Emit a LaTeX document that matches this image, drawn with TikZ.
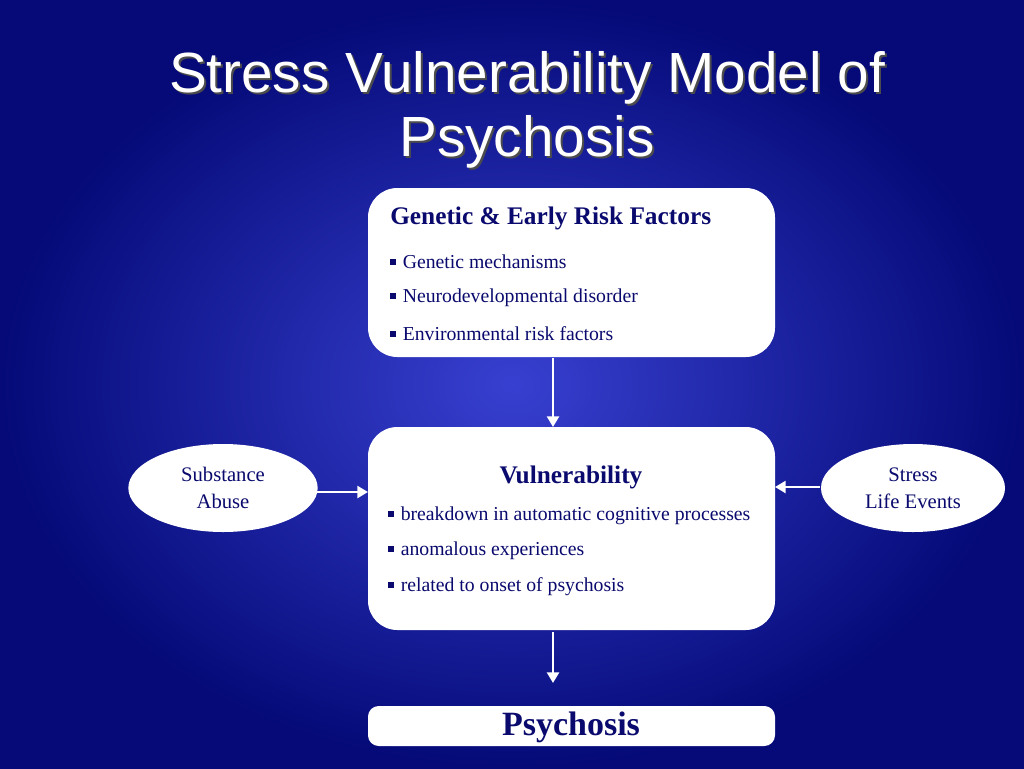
\documentclass[tikz,border=0pt]{standalone}
\usepackage{fontspec}
\setmainfont{Liberation Serif}
\newfontfamily\arialf{Liberation Sans}
\usetikzlibrary{shapes.geometric,arrows.meta,shadows}
\definecolor{bgblue}{RGB}{20,30,200}
\definecolor{bgdark}{RGB}{5,10,120}
\definecolor{navy}{RGB}{10,10,110}
\newcommand{\bsq}{\raisebox{0.45ex}{\rule{0.3em}{0.3em}}\,\,}
\begin{document}
\begin{tikzpicture}[x=0.75pt,y=-0.75pt,
  box/.style={fill=white,rounded corners=22pt},
  item/.style={anchor=west,text=navy,font=\fontsize{14.8}{16}\selectfont,inner sep=0pt},
  hd/.style={text=navy,font=\bfseries\fontsize{19}{21}\selectfont,inner sep=0pt},
  ell/.style={ellipse,fill=white,text=navy,align=center,font=\fontsize{15.5}{20}\selectfont},
  arr/.style={white,line width=1.8pt,-{Triangle[length=8pt,width=9pt]}}]
\shade[inner color=bgblue!85!white, outer color=bgdark] (0,0) rectangle (1024,768);
\useasboundingbox (0,0) rectangle (1024,768);
\node[text=black!70,align=center,font=\arialf\fontsize{42.5}{48}\selectfont,inner sep=0pt] (tshadow) at (529,112) {Stress Vulnerability Model of\\Psychosis};
\node[text=white,align=center,font=\arialf\fontsize{42.5}{48}\selectfont,inner sep=0pt] (title) at (527,110) {Stress Vulnerability Model of\\Psychosis};
\path[box] (368,188) rectangle (775,357);
\node[hd,anchor=west] (h1) at (390,218) {Genetic \& Early Risk Factors};
\node[item] (g1) at (390,262) {\bsq Genetic mechanisms};
\node[item] (g2) at (390,298) {\bsq Neurodevelopmental disorder};
\node[item] (g3) at (390,334) {\bsq Environmental risk factors};
\path[box] (368,427) rectangle (775,630);
\node[hd] (h2) at (571,477) {Vulnerability};
\node[item] (v1) at (388,516) {\bsq breakdown in automatic cognitive processes};
\node[item] (v2) at (388,551) {\bsq anomalous experiences};
\node[item] (v3) at (388,587) {\bsq related to onset of psychosis};
\path[box,rounded corners=8pt] (368,706) rectangle (775,746);
\node[hd,font=\bfseries\fontsize{25.5}{27}\selectfont] (psy) at (571,727) {Psychosis};
\node[ell,minimum width=142pt,minimum height=66pt] (sub) at (223,488) {Substance\\Abuse};
\node[ell,minimum width=138pt,minimum height=66pt] (str) at (913,488) {Stress\\Life Events};
\coordinate (a1) at (553,358); \coordinate (a2) at (553,427);
\coordinate (b1) at (553,632); \coordinate (b2) at (553,683);
\coordinate (c1) at (317,492); \coordinate (c2) at (368,492);
\coordinate (d1) at (820,487); \coordinate (d2) at (775,487);
\draw[arr] (a1) -- (a2);
\draw[arr] (b1) -- (b2);
\draw[arr] (c1) -- (c2);
\draw[arr] (d1) -- (d2);
\end{tikzpicture}
\end{document}
